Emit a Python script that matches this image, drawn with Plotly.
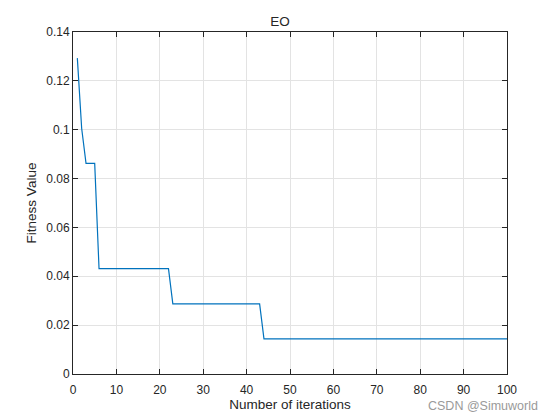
import plotly.graph_objects as go

# breakpoints of the convergence curve (linear between them)
iterations = [1, 2, 3, 5, 6, 22, 23, 43, 44, 100]
fitness = [0.1293, 0.1005, 0.0862, 0.0862, 0.0431, 0.0431, 0.0287, 0.0287, 0.0144, 0.0144]

x_ticks = [0, 10, 20, 30, 40, 50, 60, 70, 80, 90, 100]
y_ticks = [0, 0.02, 0.04, 0.06, 0.08, 0.1, 0.12, 0.14]

fig = go.Figure()
fig.add_trace(
    go.Scatter(
        x=iterations,
        y=fitness,
        mode="lines",
        line=dict(color="#0072BD", width=1.2),
        showlegend=False,
    )
)

axis_style = dict(
    showline=True,
    linecolor="#262626",
    linewidth=1,
    mirror="ticks",
    ticks="inside",
    ticklen=5,
    tickcolor="#262626",
    showgrid=True,
    gridcolor="#e3e3e3",
    gridwidth=1,
    zeroline=False,
    automargin=False,
    tickfont=dict(size=12, color="#262626"),
)

fig.update_xaxes(
    range=[0, 100],
    tickvals=x_ticks,
    ticklabelstandoff=5,
    title=dict(text="Number of iterations", font=dict(size=13.5, color="#262626"), standoff=6),
    **axis_style,
)
fig.update_yaxes(
    range=[0, 0.14],
    tickvals=y_ticks,
    ticktext=[f"{v:g}" for v in y_ticks],
    title=dict(text="Fitness Value", font=dict(size=13.5, color="#262626"), standoff=6),
    **axis_style,
)

fig.add_annotation(
    text="CSDN @Simuworld",
    xref="paper", yref="paper",
    x=1.076, y=-0.093,
    xanchor="right", yanchor="middle",
    showarrow=False,
    font=dict(size=12.5, color="#9a9a9a"),
)

# the page adds an 8px body margin, so the figure is drawn 16px smaller
fig.update_layout(
    width=544,
    height=404,
    title=dict(text="EO", x=0.5, xanchor="center", y=0.968, yanchor="middle",
               font=dict(size=13.5, color="#262626")),
    font=dict(family="Liberation Sans, Arial, sans-serif"),
    margin=dict(l=65, r=45, t=24, b=38),
    plot_bgcolor="white",
    paper_bgcolor="white",
)

fig.write_html("out.html")
